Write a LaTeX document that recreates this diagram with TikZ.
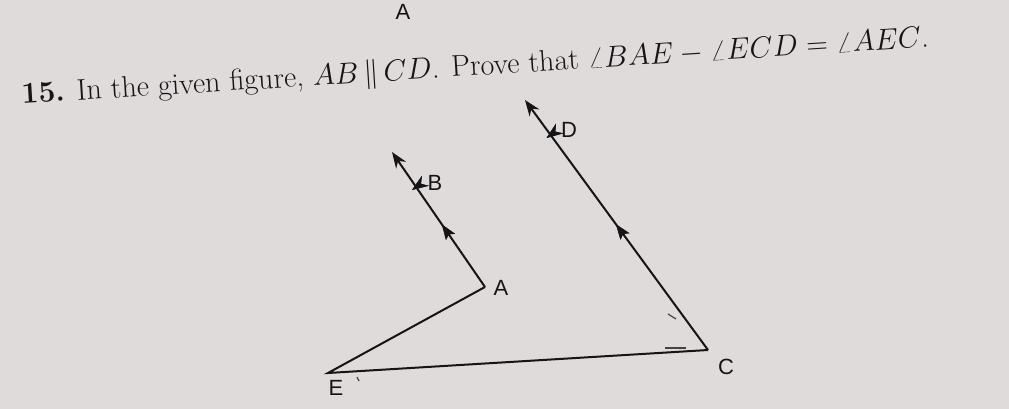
\RequirePackage{fix-cm}
\documentclass[tikz,border=0pt]{standalone}
\usepackage{fontspec}
\usetikzlibrary{arrows.meta,decorations.markings}
\newfontfamily\lblfont{Liberation Sans}
\definecolor{paper}{RGB}{224,219,219}
\definecolor{ink}{RGB}{22,20,22}
\begin{document}
\begin{tikzpicture}[x=1pt,y=-1pt,
  line/.style={draw=ink,line width=2pt},
  ray/.style={line,-{Stealth[length=16pt,width=12pt]}},
  midarrow/.style={postaction={decorate},decoration={markings,
     mark=at position #1 with {\fill[ink] (7pt,0) -- (-8pt,5.5pt) -- (-5pt,0) -- (-8pt,-5.5pt) -- cycle;}}},
  tickat/.style={postaction={decorate},decoration={markings,
     mark=at position #1 with {\draw[ink,line width=1.5pt] (0,-5pt) -- (0,5pt);}}},
  lbl/.style={font=\lblfont\fontsize{22}{24}\selectfont,text=ink,inner sep=0pt},
  faint/.style={draw=ink!80,line width=1.2pt}]
\fill[paper] (0,0) rectangle (1009,409);
\useasboundingbox (0,0) rectangle (1009,409);

\node[lbl] (topA) at (403,12) {A};
\node[anchor=base west,rotate=3.6,inner sep=0pt,text=ink,
      font=\fontsize{30}{34}\selectfont] (question) at (22,104)
  {\textbf{15.} In the given figure, $AB\,\|\,CD$. Prove that $\angle BAE-\angle ECD=\angle AEC$.};

\coordinate (A) at (485,287);
\coordinate (Btip) at (392,152);
\coordinate (E) at (328,373);
\coordinate (C) at (708,350);
\coordinate (Dtip) at (525,100);

\path[ray,midarrow=0.42,tickat=0.74] (A) -- (Btip);
\path[ray,midarrow=0.48,tickat=0.86] (C) -- (Dtip);
\draw[line,line join=miter] (A) -- (E) -- (C);

\node[lbl] (Bl) at (435,183) {B};
\node[lbl] (Dl) at (569,130) {D};
\node[lbl] (Al) at (501,288) {A};
\node[lbl] (Cl) at (726,367) {C};
\node[lbl] (El) at (336,388) {E};

% small angle marks
\draw[faint] (668,314) -- (676,319);
\draw[faint] (665,348) -- (686,348);
\draw[faint] (357,377) -- (359,381);
\end{tikzpicture}
\end{document}
